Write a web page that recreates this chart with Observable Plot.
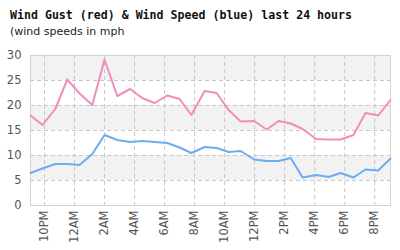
<!DOCTYPE html>
<html>
<head>
<meta charset="utf-8">
<script src="https://cdn.jsdelivr.net/npm/d3@7"></script>
<script src="https://cdn.jsdelivr.net/npm/@observablehq/plot@0.6"></script>
<style>
  html, body { margin: 0; padding: 0; background: #fff; }
  #wrap { position: relative; width: 400px; height: 250px; overflow: hidden; }
  #title { position: absolute; left: 10px; top: 8px; font: bold 11.6px "DejaVu Sans Mono", monospace; color: #111; white-space: nowrap; }
  #sub { position: absolute; left: 10px; top: 25px; font: 11px "DejaVu Sans", sans-serif; color: #222; white-space: nowrap; }
  #chart { position: absolute; left: 0; top: 0; }
</style>
</head>
<body>
<div id="wrap">
  <div id="chart"></div>
  <div id="title">Wind Gust (red) &amp; Wind Speed (blue) last 24 hours</div>
  <div id="sub">(wind speeds in mph</div>
</div>
<script>
const times = [
  "2024-01-01T21:04Z","2024-01-01T21:52Z","2024-01-01T22:43Z","2024-01-01T23:31Z",
  "2024-01-02T00:20Z","2024-01-02T01:11Z","2024-01-02T02:00Z","2024-01-02T02:51Z",
  "2024-01-02T03:42Z","2024-01-02T04:30Z","2024-01-02T05:20Z","2024-01-02T06:11Z",
  "2024-01-02T07:00Z","2024-01-02T07:47Z","2024-01-02T08:40Z","2024-01-02T09:28Z",
  "2024-01-02T10:16Z","2024-01-02T11:04Z","2024-01-02T11:58Z","2024-01-02T12:48Z",
  "2024-01-02T13:36Z","2024-01-02T14:24Z","2024-01-02T15:12Z","2024-01-02T16:06Z",
  "2024-01-02T16:56Z","2024-01-02T17:44Z","2024-01-02T18:35Z","2024-01-02T19:23Z",
  "2024-01-02T20:14Z","2024-01-02T21:03Z"
];
const gust = [18.0,16.1,19.3,25.2,22.4,20.1,29.2,21.9,23.3,21.5,20.5,22.0,21.3,18.1,22.9,
              22.5,19.1,16.8,16.9,15.2,16.9,16.4,15.3,13.3,13.2,13.2,14.1,18.5,18.0,21.1];
const speed = [6.5,7.4,8.3,8.3,8.1,10.3,14.1,13.1,12.7,12.9,12.7,12.5,11.6,10.5,11.7,
               11.5,10.7,10.9,9.2,8.9,8.9,9.5,5.6,6.1,5.7,6.5,5.6,7.2,7.0,9.4];
const tickTimes = [
  "2024-01-01T22:00Z","2024-01-02T00:00Z","2024-01-02T02:00Z","2024-01-02T04:00Z",
  "2024-01-02T06:00Z","2024-01-02T08:00Z","2024-01-02T10:00Z","2024-01-02T12:00Z",
  "2024-01-02T14:00Z","2024-01-02T16:00Z","2024-01-02T18:00Z","2024-01-02T20:00Z"
];
const tickLabels = ["10PM","12AM","2AM","4AM","6AM","8AM","10AM","12PM","2PM","4PM","6PM","8PM"];
const yTicks = [0,5,10,15,20,25,30];
const bands = [[5,10],[15,20],[25,30]];

const rows = times.map((t, i) => ({t: new Date(t), gust: gust[i], speed: speed[i]}));
const ticks = tickTimes.map(t => new Date(t));
const labelOf = new Map(ticks.map((d, i) => [+d, tickLabels[i]]));

const chart = Plot.plot({
  width: 400,
  height: 250,
  marginLeft: 30,
  marginRight: 10,
  marginTop: 55,
  marginBottom: 45,
  style: {fontFamily: "DejaVu Sans, sans-serif", fontSize: "11px", color: "#555", background: "transparent"},
  x: {type: "utc", domain: [rows[0].t, rows[rows.length - 1].t], label: null},
  y: {domain: [0, 30], label: null},
  marks: [
    Plot.rect(bands, {y1: d => d[0], y2: d => d[1], fill: "#f2f2f2"}),
    Plot.gridY(yTicks.slice(1, -1), {stroke: "#c8c8c8", strokeOpacity: 1, strokeDasharray: "4,3"}),
    Plot.gridX(ticks, {stroke: "#c8c8c8", strokeOpacity: 1, strokeDasharray: "4,3"}),
    Plot.frame({stroke: "#d2d2d2"}),
    Plot.axisY(yTicks, {tickSize: 0, tickPadding: 9, fontSize: 11.5, fill: "#555", label: null}),
    Plot.axisX(ticks, {tickSize: 0, tickPadding: 5, tickRotate: -90, fontSize: 11.5, fill: "#555",
      label: null, tickFormat: d => labelOf.get(+d)}),
    Plot.line(rows, {x: "t", y: "gust", stroke: "#f28cbd", strokeWidth: 2}),
    Plot.line(rows, {x: "t", y: "speed", stroke: "#6aaef0", strokeWidth: 2})
  ]
});
document.getElementById("chart").appendChild(chart);
</script>
</body>
</html>
